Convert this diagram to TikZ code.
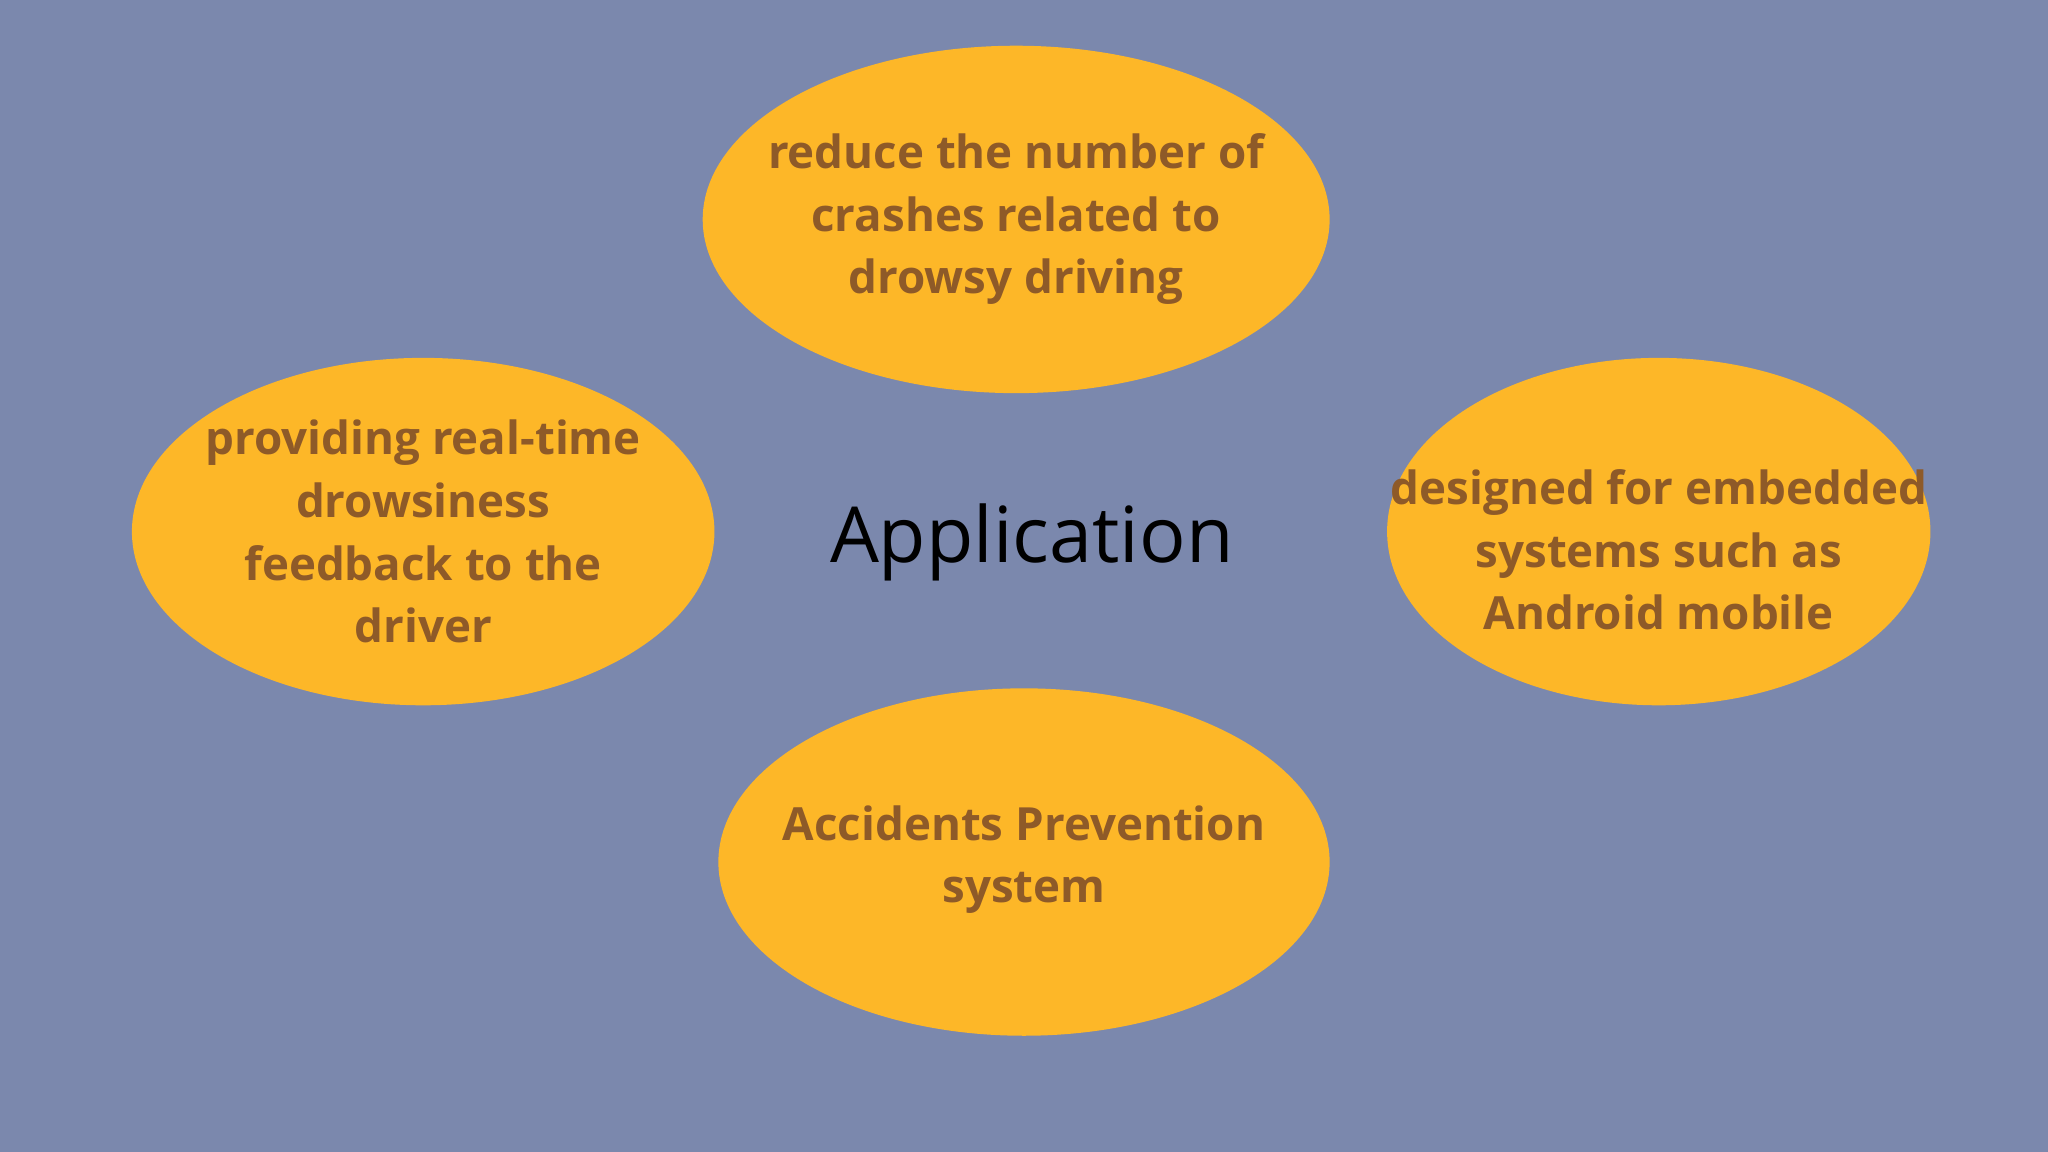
\documentclass[tikz,border=0pt]{standalone}
\usepackage{fontspec}
\setmainfont{Open Sans}
\definecolor{bg}{HTML}{7B88AD}
\definecolor{fillc}{HTML}{FDB728}
\definecolor{txt}{HTML}{8E5A28}
\begin{document}
\begin{tikzpicture}[x=0.013061cm,y=-0.013061cm,
  blob/.style={fill=fillc},
  lbl/.style={text=txt,font=\fontsize{13}{17.8}\selectfont\bfseries,align=center}]
\fill[bg] (0,0) rectangle (1568,882);
\useasboundingbox (0,0) rectangle (1568,882);
\fill[blob] (778,168) ellipse [x radius=240,y radius=133];
\fill[blob] (324,407) ellipse [x radius=223,y radius=133];
\fill[blob] (1270,407) ellipse [x radius=208,y radius=133];
\fill[blob] (784,660) ellipse [x radius=234,y radius=133];
\node[lbl] (t) at (778,168) {reduce the number of\\crashes related to\\drowsy driving};
\node[lbl] (l) at (324,407) {providing real-time\\drowsiness\\feedback to the\\driver};
\node[lbl] (r) at (1270,421) {designed for embedded\\systems such as\\Android mobile};
\node[lbl] (b) at (784,658) {Accidents Prevention\\system};
\node[font=\fontsize{22}{26}\selectfont] (c) at (790,415) {Application};
\end{tikzpicture}
\end{document}
